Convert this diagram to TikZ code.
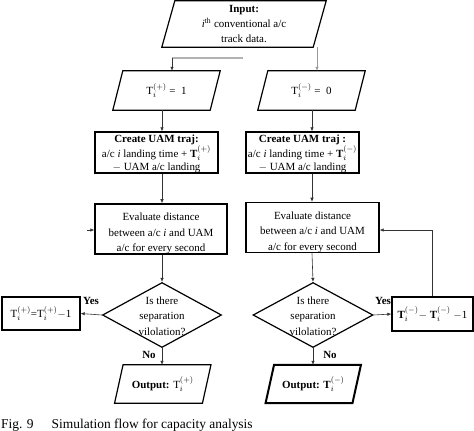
\documentclass[tikz,border=0pt]{standalone}
\usepackage{fontspec}
\setmainfont{Liberation Serif}
\usetikzlibrary{arrows.meta,shapes.geometric}
\newcommand\Tpm[1]{T$_{i}^{(#1)}$}
\newcommand\Tbf[1]{$\mathbf{T}_{i}^{(#1)}$}
\newcommand\drawpara[3][]{\draw[boxline,#1] ([xshift=-#3bp/2]#2.south west) -- ([xshift=-#3bp/2]#2.south east) -- ([xshift=#3bp/2]#2.north east) -- ([xshift=#3bp/2]#2.north west) -- cycle;}
\begin{document}
\begin{tikzpicture}[x=1bp,y=-1bp,
  txt/.style={font=\fontsize{11}{15.5}\selectfont, align=center, inner sep=0pt},
  pbox/.style={txt, draw=none, minimum height=#1},
  rbox/.style={txt, draw=black, line width=1.3bp},
  boxline/.style={draw=black, line width=1.2bp},
  arr/.style={draw=black!80, line width=0.6bp, -{Latex[length=4bp,width=3.5bp]}},
  lab/.style={font=\fontsize{11}{13}\selectfont\bfseries, inner sep=0pt}
]
\useasboundingbox (0,0) rectangle (474,430);
% columns
\coordinate (colL) at (162,0);
\coordinate (colR) at (312,0);
\coordinate (colI) at (317,0);
% input
\node[pbox=46bp, minimum width=151bp] (in) at (244,24) {\textbf{Input:}\\ \textit{i}\textsuperscript{th} conventional a/c\\ track data.};
\drawpara{in}{13}
% initial T
\node[pbox=39bp, minimum width=97bp] (tp) at (166.5,90.5) {\Tpm{+} = \ 1};
\drawpara{tp}{10}
\node[pbox=39bp, minimum width=97bp] (tm) at (311.5,90.5) {\Tpm{-} = \ 0};
\drawpara{tm}{10}
% create boxes
\node[rbox, font=\fontsize{11}{13.5}\selectfont, minimum width=123bp, minimum height=41bp] (cp) at (156.5,152.5) {\rule{0pt}{10bp}\textbf{Create UAM traj:}\\ a/c \textit{i} landing time + \Tbf{+}\\ $-$ UAM a/c landing};
\node[rbox, font=\fontsize{11}{13.5}\selectfont, minimum width=113bp, minimum height=41bp] (cm) at (302.5,152.5) {\rule{0pt}{10bp}\textbf{Create UAM traj :}\\ a/c \textit{i} landing time + \Tbf{-}\\ $-$ UAM a/c landing};
% evaluate boxes
\node[rbox, minimum width=132bp, minimum height=48bp] (ep) at (161,229) {\rule{0pt}{17bp}Evaluate distance\\ between a/c \textit{i} and UAM\\ a/c for every second};
\node[rbox, minimum width=133bp, minimum height=49bp] (em) at (312.5,227.5) {\rule{0pt}{17bp}Evaluate distance\\ between a/c \textit{i} and UAM\\ a/c for every second};
% diamonds
\node[diamond, draw=black, line width=1.2bp, minimum width=119bp, minimum height=65bp, inner sep=0pt] (dp) at (162,315) {};
\node[txt] (dpt) at (162,316) {Is there\\ separation\\ vilolation?};
\node[diamond, draw=black, line width=1.2bp, minimum width=120bp, minimum height=65bp, inner sep=0pt] (dm) at (313,315) {};
\node[txt] (dmt) at (313,316) {Is there\\ separation\\ vilolation?};
% update boxes
\node[rbox, minimum width=78bp, minimum height=33bp] (up) at (41,313.5) {\Tpm{+}=\Tpm{+}$-$1};
\node[rbox, minimum width=81bp, minimum height=34bp] (um) at (432.5,314) {\Tbf{-}$-$ \Tbf{-} $-$1};
% outputs
\node[pbox=38bp, minimum width=87.5bp] (op) at (162.75,384) {\textbf{Output:} \Tpm{+}};
\drawpara{op}{8.5}
\node[pbox=38bp, minimum width=86.5bp] (om) at (313.25,384) {\textbf{Output:} \Tbf{-}};
\drawpara[line width=2bp]{om}{8.5}
% connectors
\coordinate (g1) at (172,58);
\coordinate (g2) at (243,58);
\draw[black!30, line width=1.3bp] (g1) -- (g2);
\draw[arr] (g1) -- (g1 |- tp.north);
\draw[arr, draw=black!40] (in.south -| colI) -- (tm.north -| colI);
\draw[arr] (tp.south -| colL) -- (cp.north -| colL);
\draw[arr] (tm.south -| colR) -- (cm.north -| colR);
\draw[arr] (cp.south -| colL) -- (ep.north -| colL);
\draw[arr] (cm.south -| colR) -- (em.north -| colR);
\draw[arr] (ep.south -| colL) -- (dp.north);
\draw[arr] (em.south -| colR) -- (dm.north);
\draw[arr] (dp.west) -- (up.east);
\draw[arr] (dm.east) -- (um.west);
\draw[arr] (dp.south) -- (op.north -| dp.south);
\draw[arr] (dm.south) -- (om.north -| dm.south);
\coordinate (s) at (87,230);
\draw[arr] (s) -- (s -| ep.west);
\coordinate (lp) at (432.5,230);
\draw[arr] (um.north) -- (lp) -- (lp -| em.east);
% labels
\node[lab] (y1) at (91,301) {Yes};
\node[lab] (y2) at (383,301) {Yes};
\node[lab] (n1) at (149,355) {No};
\node[lab] (n2) at (330,355) {No};
% caption
\node[anchor=base west, inner sep=0pt, font=\fontsize{13.5}{15}\selectfont] (cap) at (1,428) {Fig. 9\hspace{18bp}Simulation flow for capacity analysis};
\end{tikzpicture}
\end{document}
